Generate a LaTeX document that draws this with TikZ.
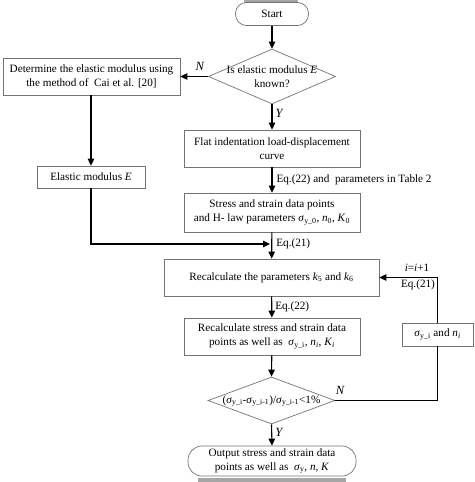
\documentclass[tikz,border=0pt]{standalone}
\usepackage{fontspec}
\setmainfont{Liberation Serif}
\usetikzlibrary{shapes.geometric,arrows.meta}
\newcommand{\sgm}[1]{\textit{σ}\textsubscript{#1}}
\newcommand{\vsub}[2]{\textit{#1}\textsubscript{#2}}
\tikzset{
  box/.style={draw=black!55, line width=0.7pt, align=center, inner sep=1pt, font=\fontsize{11.2}{14}\selectfont},
  term/.style={box, rounded corners=11pt},
  dia/.style={diamond, draw=black!55, line width=0.7pt, inner sep=0pt},
  txt/.style={align=center, inner sep=0pt, font=\fontsize{11.2}{14}\selectfont},
  lbl/.style={inner sep=0pt, font=\fontsize{11.2}{13}\selectfont},
  yn/.style={inner sep=0pt, font=\fontsize{12.5}{14}\selectfont\itshape},
  conn/.style={line width=1.1pt, draw=black},
  arr/.style={conn, -{Triangle[length=7pt,width=6.5pt]}},
  shadowbar/.style={fill=black!35, draw=none}
}
\begin{document}
\begin{tikzpicture}[x=1pt,y=-1pt]
\useasboundingbox (0,0) rectangle (474,482);
% shadows cut by the edges
\fill[shadowbar] (244,0) rectangle (298,2.5);
\fill[shadowbar] (198,477.5) rectangle (346,482);

\node[term, minimum width=73pt, minimum height=23pt] (start) at (272,14) {Start};
\node[dia, minimum width=127pt, minimum height=55pt] (d1) at (272,76.5) {};
\node[txt] (d1t) at (272,77) {Is elastic modulus \textit{E}\\known?};
\node[box, minimum width=177pt, minimum height=37pt] (det) at (91.5,76.5) {Determine the elastic modulus using\\the method of\ \ Cai et al. [20]};
\node[box, minimum width=176pt, minimum height=37pt] (flat) at (272,148.5) {Flat indentation load-displacement\\curve};
\node[box, minimum width=108pt, minimum height=22pt] (em) at (91,177) {Elastic modulus \textit{E}};
\node[box, minimum width=176pt, minimum height=39pt] (stress) at (272,212.5) {Stress and strain data points\\and H- law parameters \sgm{y\_0}, \vsub{n}{0}, \vsub{K}{0}};
\node[box, minimum width=215pt, minimum height=37pt] (rc1) at (271.5,277.5) {Recalculate the parameters \vsub{k}{5} and \vsub{k}{6}};
\node[box, minimum width=176pt, minimum height=37pt] (rc2) at (272,336.5) {Recalculate stress and strain data\\points as well as\ \ \sgm{y\_i}, \vsub{n}{\textit{i}}, \vsub{K}{\textit{i}}};
\node[box, minimum width=71pt, minimum height=23pt] (sig) at (437.5,334.5) {\sgm{y\_i} and \vsub{n}{\textit{i}}};
\node[dia, minimum width=127pt, minimum height=47pt] (d2) at (271.5,400.5) {};
\node[txt] (d2t) at (271.5,401) {(\sgm{y\_i}-\sgm{y\_i-1})/\sgm{y\_i-1}<1\%};
\node[term, rounded corners=14pt, minimum width=168pt, minimum height=30pt] (out) at (272,461) {Output stress and strain data\\points as well as\ \ \sgm{y}, \textit{n}, \textit{K}};

\coordinate (j) at (272,244);

\draw[arr] (start) -- (d1);
\draw[arr] (d1.west) -- (det.east) node[yn, pos=0.3, above=5pt] {N};
\draw[arr] (d1.south) -- (flat.north) node[yn, pos=0.35, right=3pt] {Y};
\draw[arr] (det.south -| em.north) -- (em.north);
\draw[arr] (flat) -- (stress) node[lbl, midway, right=4pt, anchor=west] {Eq.(22) and\ \ parameters in Table 2};
\draw[arr] (stress) -- (rc1) node[lbl, pos=0.45, right=4pt, anchor=west] {Eq.(21)};
\draw[arr] (em.south) |- ([xshift=-2pt]j);
\draw[arr] (rc1) -- (rc2) node[lbl, midway, right=3pt, anchor=west] {Eq.(22)};
\draw[arr] (rc2) -- (d2.north);
\draw[arr] (d2.south) -- (out.north) node[yn, pos=0.4, right=3pt] {Y};
\draw[conn] (d2.east) -| (sig.south);
\node[yn] at (340,390) {N};
\draw[arr] (sig.north) |- (rc1.east);
\node[lbl] at (417,268) {\textit{i}=\textit{i}+1};
\node[lbl] at (418,285) {Eq.(21)};
\end{tikzpicture}
\end{document}
